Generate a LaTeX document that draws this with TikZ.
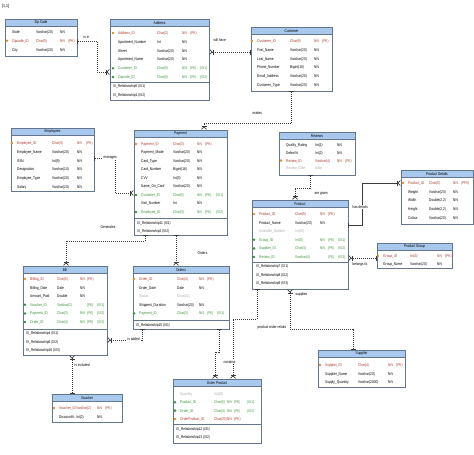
\documentclass[tikz,border=0pt]{standalone}
\usepackage{fontspec}
\setmainfont{Liberation Sans}[FakeStretch=0.8]
\usetikzlibrary{arrows.meta,fit}

\definecolor{pkred}{RGB}{170,55,40}
\definecolor{fkgreen}{RGB}{55,145,55}
\definecolor{dimgray}{RGB}{175,175,175}
\definecolor{keyor}{RGB}{230,140,40}
\definecolor{headblue}{RGB}{168,200,238}
\definecolor{boxline}{RGB}{100,118,140}
\definecolor{linegray}{RGB}{60,60,60}

\newcommand{\tabfont}{\fontsize{4}{4.6}\selectfont}

\tikzset{
  ent/.style={draw=boxline, fill=white, line width=0.6pt, inner sep=0pt},
  head/.style={draw=boxline, fill=headblue, line width=0.6pt},
  enttitle/.style={inner sep=0pt, font=\tabfont},
  attr/.style={anchor=base west, inner sep=0pt, font=\tabfont, yshift=-1.4pt},
  tpk/.style={text=pkred}, tfk/.style={text=fkgreen},
  tno/.style={text=black}, tdim/.style={text=dimgray},
  keyicon/.style={circle, inner sep=0pt, minimum size=2.8pt},
  ipk/.style={fill=keyor}, ifk/.style={fill=fkgreen},
  ino/.style={}, idim/.style={},
  rel/.style={draw=linegray, line width=0.7pt, dash pattern=on 1pt off 1pt},
  idrel/.style={draw=linegray, line width=0.6pt},
  onemany/.style={{Bar[width=5pt]}-{Bar[width=5pt]Straight Barb[reversed,length=2.5pt,width=5pt]}},
  lbl/.style={anchor=west, inner sep=0.4pt, font=\tabfont, fill=white},
}

% box with header: name, title, x1, y1, x2, y2
\newcommand{\entbox}[6]{%
  \node[ent, fit={(#3,#4)(#5,#6)}] (#1) {};
  \draw[head] (#3,#4) rectangle (#5,{#4+7.5});
  \node[enttitle] (#1-t) at ({(#3+#5)/2},{#4+3.9}) {#2};
}
% attribute rows: name, first y, pitch, x of name/type/NN/key/index, rows
\newcommand{\attrrows}[9]{%
  \foreach \an/\ty/\nn/\ky/\ix/\st [count=\i] in {#9} {
    \node[keyicon, i\st] (#1-k\i) at ({#4-5},{#2+#3*(\i-1)}) {};
    \node[attr, t\st] (#1-a\i) at (#4,{#2+#3*(\i-1)}) {\an};
    \node[attr, t\st] (#1-b\i) at (#5,{#2+#3*(\i-1)}) {\ty};
    \node[attr, t\st] (#1-c\i) at (#6,{#2+#3*(\i-1)}) {\nn};
    \node[attr, t\st] (#1-d\i) at (#7,{#2+#3*(\i-1)}) {\ky};
    \node[attr, t\st] (#1-e\i) at (#8,{#2+#3*(\i-1)}) {\ix};
  }}
% index rows: name, x, first y, pitch, rows
\newcommand{\ixrows}[5]{%
  \foreach \tx [count=\i] in {#5}
    \node[attr] (#1-x\i) at (#2,{#3+#4*(\i-1)}) {\tx};}

\begin{document}
\begin{tikzpicture}[x=1pt,y=-1pt]
\useasboundingbox (0,0) rectangle (474,455);
\node[attr, font=\fontsize{4.4}{5}\selectfont] (corner) at (2,6) {[1,1]};

% tables
\entbox{zip}{Zip Code}{5}{19}{77}{56}
\attrrows{zip}{32}{8.8}{12}{36}{60}{68}{76}{%
  State/Varchar(20)/NN/{}/{}/no,
  Zipcode\_ID/Char(5)/NN/(PK)/{}/pk,
  City/Varchar(20)/NN/{}/{}/no}

\entbox{address}{Address}{110}{19}{209}{100}
\draw[ent] (110,82) -- (209,82);
\attrrows{address}{33}{8.8}{118}{157}{182}{190}{200}{%
  Address\_ID/Char(2)/NN/(PK)/{}/pk,
  Apartment\_Number/Int/NN/{}/{}/no,
  Street/Varchar(20)/NN/{}/{}/no,
  Apartment\_Name/Varchar(20)/NN/{}/{}/no,
  Customer\_ID/Char(5)/NN/(FK)/(IX1)/fk,
  Zipcode\_ID/Char(5)/NN/(FK)/(IX2)/fk}
\ixrows{address}{113}{86.5}{8.5}{IX\_Relationship5 (IX1),IX\_Relationship1 (IX2)}

\entbox{customer}{Customer}{251}{27}{332}{91}
\attrrows{customer}{41}{8.8}{257}{290}{314}{322}{330}{%
  Customer\_ID/Char(5)/NN/(PK)/{}/pk,
  First\_Name/Varchar(20)/NN/{}/{}/no,
  Last\_Name/Varchar(20)/NN/{}/{}/no,
  Phone\_Number/Bigint(10)/NN/{}/{}/no,
  Email\_Address/Varchar(20)/NN/{}/{}/no,
  Customer\_Type/Varchar(20)/NN/{}/{}/no}

\entbox{employees}{Employees}{11}{128}{94}{191}
\attrrows{employees}{143}{8.8}{17}{52}{77}{86}{95}{%
  Employee\_ID/Char(3)/NN/(PK)/{}/pk,
  Employee\_Name/Varchar(20)/NN/{}/{}/no,
  SSN/Int(9)/NN/{}/{}/no,
  Designation/Varchar(10)/NN/{}/{}/no,
  Employee\_Type/Varchar(20)/NN/{}/{}/no,
  Salary/Varchar(20)/NN/{}/{}/no}

\entbox{payment}{Payment}{134}{130}{227}{235}
\draw[ent] (134,218) -- (227,218);
\attrrows{payment}{144}{8.5}{141}{173}{197}{205}{216}{%
  Payment\_ID/Char(3)/NN/(PK)/{}/pk,
  Payment\_Mode/Varchar(20)/NN/{}/{}/no,
  Card\_Type/Varchar(20)/NN/{}/{}/no,
  Card\_Number/Bigint(16)/NN/{}/{}/no,
  CVV/Int(3)/NN/{}/{}/no,
  Name\_On\_Card/Varchar(20)/NN/{}/{}/no,
  Customer\_ID/Char(5)/NN/(FK)/(IX1)/fk,
  Visit\_Number/Int/NN/{}/{}/no,
  Employee\_ID/Char(3)/NN/(FK)/(IX2)/fk}
\ixrows{payment}{137}{223}{8}{IX\_Relationship11 (IX1),IX\_Relationship2 (IX2)}

\entbox{reviews}{Reviews}{279}{132}{355}{175}
\attrrows{reviews}{145}{7.8}{286}{315}{337}{345}{355}{%
  Quality\_Rating/Int(1)/NN/{}/{}/no,
  Defect\%/Int(2)/NN/{}/{}/no,
  Review\_ID/Varchar(4)/NN/(PK)/{}/pk,
  Review\_Date/Date/{}/{}/{}/dim}

\entbox{pdetails}{Product Details}{401}{170}{473}{224}
\attrrows{pdetails}{183}{8.7}{408}{429}{453}{461}{471}{%
  Product\_ID/Char(5)/NN/(PFK)/{}/pk,
  Weight/Varchar(20)/NN/{}/{}/no,
  Width/{Double(2,2)}/NN/{}/{}/no,
  Height/{Double(2,2)}/NN/{}/{}/no,
  Colour/Varchar(20)/NN/{}/{}/no}

\entbox{product}{Product}{252}{200}{348}{289}
\draw[ent] (252,262) -- (348,262);
\attrrows{product}{214}{8.6}{259}{295}{320}{328}{338}{%
  Product\_ID/Char(5)/NN/(PK)/{}/pk,
  Product\_Name/Varchar(20)/NN/{}/{}/no,
  Available\_Number/Int(20)/{}/{}/{}/dim,
  Group\_ID/Int(3)/NN/(FK)/(IX1)/fk,
  Supplier\_ID/Char(4)/NN/(FK)/(IX2)/fk,
  Review\_ID/Varchar(4)/{}/(FK)/(IX3)/fk}
\ixrows{product}{256}{266}{8.6}{IX\_Relationship7 (IX1),IX\_Relationship8 (IX2),IX\_Relationship9 (IX3)}

\entbox{pgroup}{Product Group}{377}{243}{452}{268}
\attrrows{pgroup}{256}{8.5}{383}{410}{437}{445}{452}{%
  Group\_ID/Int(3)/NN/(PK)/{}/pk,
  Group\_Name/Varchar(20)/NN/{}/{}/no}

\entbox{bill}{Bill}{23}{266}{107}{355}
\draw[ent] (23,329) -- (107,329);
\attrrows{bill}{279}{8.6}{30}{57}{80}{87}{97}{%
  Billing\_ID/Char(5)/NN/(PK)/{}/pk,
  Billing\_Date/Date/NN/{}/{}/no,
  Amount\_Paid/Double/NN/{}/{}/no,
  Voucher\_ID/Varchar(2)/{}/(FK)/(IX1)/fk,
  Payment\_ID/Char(3)/NN/(FK)/(IX2)/fk,
  Order\_ID/Char(4)/NN/(FK)/(IX3)/fk}
\ixrows{bill}{26}{333}{8.6}{IX\_Relationship4 (IX1),IX\_Relationship6 (IX2),IX\_Relationship16 (IX3)}

\entbox{orders}{Orders}{133}{266}{229}{329}
\draw[ent] (133,320) -- (229,320);
\attrrows{orders}{279}{8.6}{139}{177}{199}{207}{217}{%
  Order\_ID/Char(4)/NN/(PK)/{}/pk,
  Order\_Date/Date/NN/{}/{}/no,
  Status/Char(20)/{}/{}/{}/dim,
  Shippent\_Duration/Varchar(20)/NN/{}/{}/no,
  Payment\_ID/Char(3)/NN/(FK)/(IX1)/fk}
\ixrows{orders}{136}{325}{8}{IX\_Relationship15 (IX1)}

\entbox{voucher}{Voucher}{52}{394}{122}{422}
\attrrows{voucher}{408}{8.8}{59}{76}{97}{105}{115}{%
  Voucher\_ID/Varchar(2)/NN/(PK)/{}/pk,
  Discount\%/Int(2)/NN/{}/{}/no}

\entbox{orderproduct}{Order Product}{173}{379}{261}{443}
\draw[ent] (173,424) -- (261,424);
\attrrows{orderproduct}{394}{8.3}{180}{214}{227}{234}{247}{%
  Quantity/Int(20)/{}/{}/{}/dim,
  Product\_ID/Char(5)/NN/(FK)/(IX1)/fk,
  Order\_ID/Char(4)/NN/(FK)/(IX2)/fk,
  OrderProduct\_ID/Char(20)/NN/(PK)/{}/pk}
\ixrows{orderproduct}{176}{429}{8}{IX\_Relationship12 (IX1),IX\_Relationship13 (IX2)}

\entbox{supplier}{Supplier}{318}{350}{405}{387}
\attrrows{supplier}{365}{8.6}{325}{358}{388}{396}{405}{%
  Supplier\_ID/Char(4)/NN/(PK)/{}/pk,
  Supplier\_Name/Varchar(20)/NN/{}/{}/no,
  Supply\_Quantity/Varchar(2000)/NN/{}/{}/no}

% bends
\coordinate (isin) at (97,72);
\coordinate (willhave) at (230,52);
\coordinate (makes) at (204,123);
\coordinate (manages) at (115,158);
\coordinate (manages2) at (115,193);
\coordinate (given) at (310,188);
\coordinate (given2) at (295,188);
\coordinate (details) at (362,225);
\coordinate (details2) at (362,183);
\coordinate (belongs) at (362,258);
\coordinate (supplies) at (290,329);
\coordinate (supplies2) at (353,329);
\coordinate (porel) at (257,319);
\coordinate (porel2) at (233,319);
\coordinate (gen) at (145,241);
\coordinate (gen2) at (66,241);
\coordinate (ord) at (176,250);
\coordinate (added) at (142,340);
\coordinate (incl) at (72,372);
\coordinate (cont) at (219,352);
\coordinate (cont2) at (215,352);

% relationships
\draw[rel,onemany] (zip-a2 -| zip.east) -| (isin) -- (isin -| address.west);
\draw[rel,onemany] (willhave -| customer.west) -- (willhave -| address.east);
\draw[rel,onemany] (customer.south) |- (makes) -- (makes |- payment.north);
\draw[rel,onemany] (manages -| employees.east) -- (manages) -- (manages2) -- (manages2 -| payment.west);
\draw[rel,onemany] (given |- reviews.south) -- (given) -- (given2) -- (given2 |- product.north);
\draw[idrel,onemany] (details -| product.east) -- (details) -- (details2) -- (details2 -| pdetails.west);
\draw[rel,onemany] (belongs -| pgroup.west) -- (belongs -| product.east);
\draw[rel,onemany] (supplies2 |- supplier.north) -- (supplies2) -- (supplies) -- (supplies |- product.south);
\draw[rel,onemany] (porel |- product.south) -- (porel) -- (porel2) -- (porel2 |- orderproduct.north);
\draw[rel,onemany] (gen |- payment.south) -- (gen) -- (gen2) -- (gen2 |- bill.north);
\draw[rel,onemany] (ord |- payment.south) -- (ord |- orders.north);
\draw[rel,onemany] (added |- orders.south) -- (added) -- (added -| bill.east);
\draw[rel,onemany] (incl |- voucher.north) -- (incl |- bill.south);
\draw[rel,onemany] (cont |- orders.south) -- (cont) -- (cont2) -- (cont2 |- orderproduct.north);

% labels
\node[lbl] (l-isin) at (83,37) {is in};
\node[lbl] (l-willhave) at (213,40) {will have};
\node[lbl] (l-makes) at (252,113) {makes};
\node[lbl] (l-manages) at (103,158) {manages};
\node[lbl, anchor=center] (l-generates) at (108,227) {Generates};
\node[lbl] (l-orders) at (197,253) {Orders};
\node[lbl] (l-given) at (314,193) {are given};
\node[lbl] (l-details) at (352,207) {has details};
\node[lbl] (l-belongs) at (352,264) {belongs to};
\node[lbl] (l-supplies) at (295,294) {supplies};
\node[lbl] (l-porel) at (257,327) {product order relatio};
\node[lbl] (l-added) at (127,339) {is added};
\node[lbl] (l-incl) at (74,365) {is included};
\node[lbl] (l-contains) at (223,362) {contains};
\end{tikzpicture}
\end{document}
